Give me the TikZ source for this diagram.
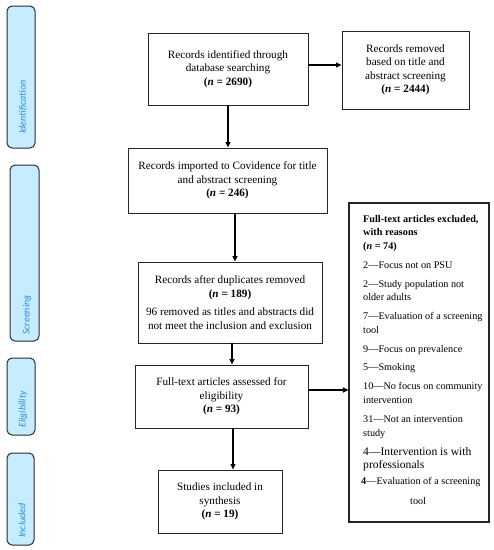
\documentclass[tikz,border=0pt]{standalone}
\usepackage{fontspec}
\setmainfont{Liberation Serif}
\newfontfamily\sidefont{Carlito}
\usetikzlibrary{arrows.meta}
\definecolor{barfill}{HTML}{C6ECFF}
\definecolor{barline}{HTML}{2B2B2B}
\definecolor{bartext}{HTML}{2C8FD8}
\tikzset{
  x=1pt, y=-1pt,
  flowbox/.style={draw=black!85, line width=0.9pt, align=center, inner sep=2pt,
    font=\fontsize{11.2}{13.5}\selectfont},
  sidebar/.style={draw=barline, fill=barfill, line width=1pt, rounded corners=5pt},
  sidelabel/.style={rotate=90, anchor=west, text=bartext, inner sep=0pt,
    font=\sidefont\itshape\fontsize{10}{12}\selectfont},
  flowarrow/.style={line width=1.1pt, -{Triangle[length=5.5pt,width=5pt]}},
  listtext/.style={anchor=north west, align=left, inner sep=0pt,
    font=\fontsize{10.2}{13.5}\selectfont}
}
\begin{document}
\begin{tikzpicture}
\useasboundingbox (0,0) rectangle (494,550);
% side bars
\draw[sidebar] (7,6) rectangle (35,148);
\draw[sidebar] (10,165) rectangle (39,341);
\draw[sidebar] (7,358) rectangle (35,435);
\draw[sidebar] (7,453) rectangle (34,545);
\node[sidelabel] (lid) at (23,134) {Identification};
\node[sidelabel] (lsc) at (27,335) {Screening};
\node[sidelabel] (lel) at (23,428) {Eligibility};
\node[sidelabel] (lin) at (22,538) {Included};
% boxes
\node[flowbox, minimum width=160pt, minimum height=72pt] (b1) at (228,69)
  {Records identified through\\ database searching\\ \textbf{(\textit{n} = 2690)}};
\node[flowbox, minimum width=127pt, minimum height=78pt] (b2) at (405.5,70)
  {Records removed\\ based on title and\\ abstract screening\\ \textbf{(\textit{n} = 2444)}};
\node[flowbox, minimum width=199pt, minimum height=65pt] (b3) at (227.5,180.5)
  {Records imported to Covidence for title\\ and abstract screening\\ \textbf{(\textit{n} = 246)}};
\node[flowbox, minimum width=184pt, minimum height=81pt] (b4) at (230,302.5)
  {Records after duplicates removed\\ \textbf{(\textit{n} = 189)}\\[5pt]
   96 removed as titles and abstracts did\\ not meet the inclusion and exclusion};
\node[flowbox, minimum width=173pt, minimum height=63pt] (b5) at (221.5,396.5)
  {Full-text articles assessed for\\ eligibility\\ \textbf{(\textit{n} = 93)}};
\node[flowbox, minimum width=124pt, minimum height=63pt] (b6) at (220,501.5)
  {Studies included in\\ synthesis\\ \textbf{(\textit{n} = 19)}};
\node[draw=black!85, line width=1.1pt, minimum width=140pt, minimum height=319pt]
  (b7) at (419,362.5) {};
\node[listtext] (b7text) at (363,215)
  {\textbf{Full-text articles excluded,}\\ \textbf{with reasons}\\ \textbf{(\textit{n} = 74)}\\[5.5pt]
   2---Focus not on PSU\\[5.5pt]
   2---Study population not\\ older adults\\[5.5pt]
   7---Evaluation of a screening\\ tool\\[5.5pt]
   9---Focus on prevalence\\[5pt]
   5---Smoking\\[5.5pt]
   10---No focus on community\\ intervention\\[6pt]
   31---Not an intervention\\ study\\[5.5pt]
   {\fontsize{11.6}{14}\selectfont 4---Intervention is with}\\
   {\fontsize{11.6}{14}\selectfont professionals}\\[2.5pt]
   \hspace*{-2pt}\textbf{4}---Evaluation of a screening\\[6pt]
   \hspace*{47pt}tool};
% helper coordinates for arrow positions
\coordinate (c12) at (0,65);
\coordinate (c34) at (235,0);
\coordinate (c45) at (232,0);
\coordinate (c56) at (233,0);
\coordinate (c57) at (0,390);
% arrows
\draw[flowarrow] (b1.east |- c12) -- (b2.west |- c12);
\draw[flowarrow] (b1.south) -- (b1.south |- b3.north);
\draw[flowarrow] (b3.south -| c34) -- (b4.north -| c34);
\draw[flowarrow] (b4.south -| c45) -- (b5.north -| c45);
\draw[flowarrow] (b5.south -| c56) -- (b6.north -| c56);
\draw[flowarrow] (b5.east |- c57) -- (b7.west |- c57);
\end{tikzpicture}
\end{document}
